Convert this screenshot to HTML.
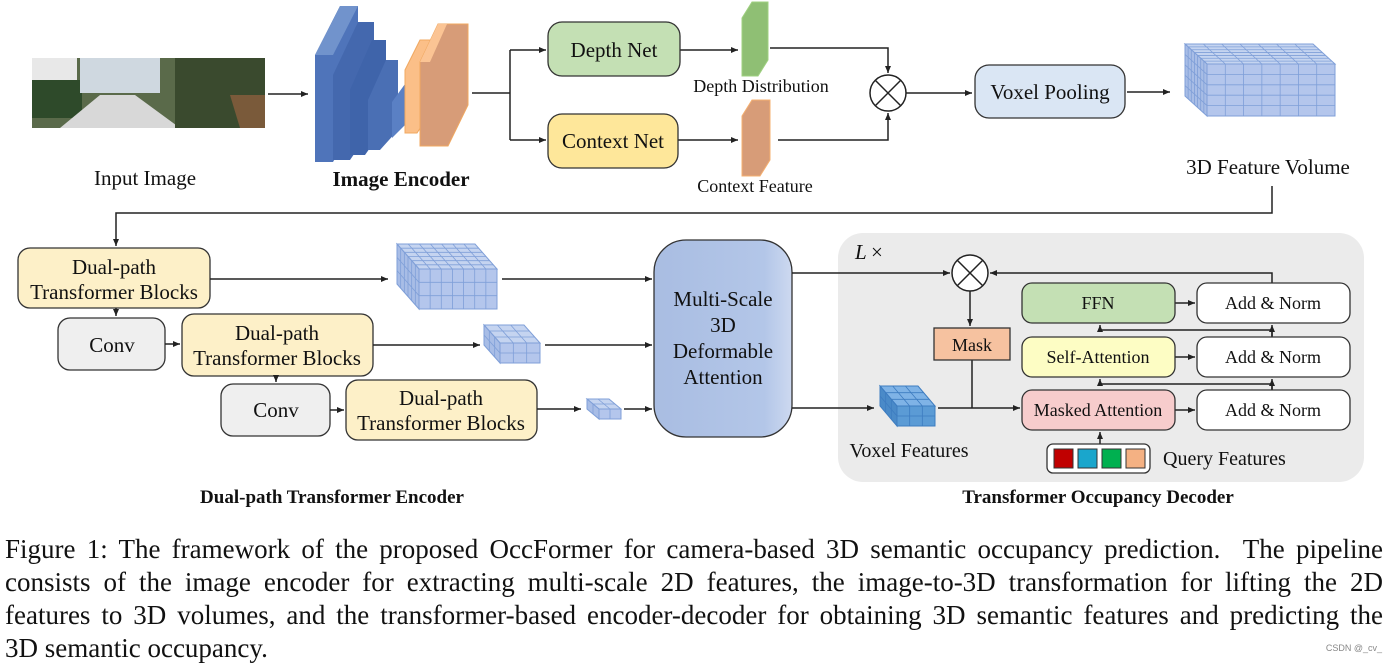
<!DOCTYPE html>
<html><head><meta charset="utf-8"><style>
html,body{margin:0;padding:0;background:#fff;}
body{width:1394px;height:664px;position:relative;overflow:hidden;font-family:"Liberation Serif",serif;}
svg{position:absolute;left:0;top:0;}
.cap{position:absolute;left:5px;top:533px;width:1378px;font-size:27px;line-height:33px;color:#111;}
.cap div{text-align:justify;text-align-last:justify;white-space:nowrap;}
.cap div.l{text-align-last:left;}
.wm{position:absolute;right:12px;top:643px;font-family:"Liberation Sans",sans-serif;font-size:9px;color:#888;}
</style></head><body>
<svg id="s" width="1394" height="664" viewBox="0 0 1394 664" font-family="Liberation Serif, serif" fill="none">
<defs>
<marker id="a" markerWidth="8" markerHeight="8" refX="7" refY="4" orient="auto" markerUnits="userSpaceOnUse"><path d="M0,1 L7,4 L0,7 Z" fill="#222"/></marker>
<linearGradient id="g" x1="0" x2="1"><stop offset="0" stop-color="#a9bde2"/><stop offset="0.8" stop-color="#b3c6e8"/><stop offset="1" stop-color="#cdd9f0"/></linearGradient>
</defs>
<rect x="32" y="58" width="233" height="70" fill="#5a6a4a"/>
<rect x="32" y="58" width="45" height="45" fill="#e8e8e8"/>
<rect x="32" y="80" width="50" height="38" fill="#2e4a2a"/>
<polygon points="60,128 100,95 135,95 180,128" fill="#d8d8d8"/>
<rect x="175" y="58" width="90" height="70" fill="#3a4a2e"/>
<rect x="80" y="58" width="80" height="35" fill="#cfd8e0"/>
<polygon points="230,95 265,95 265,128 240,128" fill="#7a5a3a"/>
<polygon points="315,55 340,6 358,6 358,120 333,162 315,162" fill="#4f74ba"/>
<polygon points="340,6 358,6 333,55 315,55" fill="#7193cc"/>
<polygon points="333,75 358,22 374,22 374,125 350,160 333,160" fill="#4468ae"/>
<polygon points="350,90 372,40 386,40 386,125 365,155 350,155" fill="#3f64aa"/>
<polygon points="368,100 386,60 398,60 398,130 380,150 368,150" fill="#4a6fb4"/>
<polygon points="392,102 405,84 405,125 392,138" fill="#5a80c4"/>
<polygon points="405,70 420,40 430,40 430,113 417,133 405,133" fill="#fbbf88" stroke="#f0a860"/>
<polygon points="420,62 438,24 468,24 468,105 448,146 420,146" fill="#d79c78" stroke="#f0a860"/>
<polygon points="420,62 438,24 447,24 430,62" fill="#fbc494"/>
<g stroke="#222" stroke-width="1.5">
<line x1="268" y1="94" x2="308" y2="94" marker-end="url(#a)"/>
<polyline points="472,93 510,93"/>
<polyline points="510,50 510,140"/>
<line x1="510" y1="50" x2="546" y2="50" marker-end="url(#a)"/>
<line x1="510" y1="140" x2="546" y2="140" marker-end="url(#a)"/>
<line x1="680" y1="50" x2="738" y2="50" marker-end="url(#a)"/>
<line x1="678" y1="140" x2="738" y2="140" marker-end="url(#a)"/>
<polyline points="770,48 888,48 888,73" marker-end="url(#a)"/>
<polyline points="778,140 888,140 888,113" marker-end="url(#a)"/>
<line x1="906" y1="93" x2="972" y2="93" marker-end="url(#a)"/>
<line x1="1127" y1="92" x2="1170" y2="92" marker-end="url(#a)"/>
<polyline points="1272,186 1272,213 116,213 116,246" marker-end="url(#a)"/>
</g>
<rect x="548" y="22" width="132" height="54" rx="14" fill="#c4e0b4" stroke="#333" stroke-width="1.3"/>
<rect x="548" y="114" width="130" height="54" rx="14" fill="#fee79a" stroke="#333" stroke-width="1.3"/>
<polygon points="742,18 752,2 768,2 768,60 758,76 742,76" fill="#8fbf74" stroke="#9fd080"/>
<polygon points="742,116 752,100 770,100 770,160 760,176 742,176" fill="#d79c78" stroke="#f5b070"/>
<circle cx="888" cy="93" r="18" fill="#fff" stroke="#222" stroke-width="1.5"/>
<path d="M875,80 L901,106 M901,80 L875,106" stroke="#222" stroke-width="1.5"/>
<rect x="975" y="65" width="150" height="53" rx="14" fill="#dae6f4" stroke="#333" stroke-width="1.3"/>
<rect x="838" y="233" width="526" height="249" rx="25" fill="#ebebeb"/>
<g id="cubes"></g>
<g stroke="#333" stroke-width="1.3">
<rect x="18" y="248" width="192" height="60" rx="12" fill="#fdf0c8"/>
<rect x="58" y="318" width="107" height="52" rx="12" fill="#efefef"/>
<rect x="182" y="314" width="191" height="62" rx="12" fill="#fdf0c8"/>
<rect x="221" y="384" width="109" height="52" rx="12" fill="#efefef"/>
<rect x="346" y="380" width="191" height="60" rx="12" fill="#fdf0c8"/>
<rect x="654" y="240" width="138" height="197" rx="32" fill="url(#g)"/>
</g>
<g stroke="#222" stroke-width="1.5">
<line x1="116" y1="308" x2="116" y2="316" marker-end="url(#a)"/>
<line x1="276" y1="376" x2="276" y2="382" marker-end="url(#a)"/>
<line x1="165" y1="344" x2="180" y2="344" marker-end="url(#a)"/>
<line x1="330" y1="410" x2="344" y2="410" marker-end="url(#a)"/>
<line x1="210" y1="279" x2="388" y2="279" marker-end="url(#a)"/>
<line x1="502" y1="279" x2="652" y2="279" marker-end="url(#a)"/>
<line x1="373" y1="345" x2="480" y2="345" marker-end="url(#a)"/>
<line x1="545" y1="345" x2="652" y2="345" marker-end="url(#a)"/>
<line x1="537" y1="409" x2="581" y2="409" marker-end="url(#a)"/>
<line x1="624" y1="409" x2="652" y2="409" marker-end="url(#a)"/>
<line x1="792" y1="273" x2="950" y2="273" marker-end="url(#a)"/>
<polyline points="1272,283 1272,273 990,273" marker-end="url(#a)"/>
<line x1="970" y1="291" x2="970" y2="326" marker-end="url(#a)"/>
<line x1="792" y1="408" x2="874" y2="408" marker-end="url(#a)"/>
<polyline points="972,360 972,408"/>
<line x1="938" y1="408" x2="1020" y2="408" marker-end="url(#a)"/>
<line x1="1175" y1="303" x2="1195" y2="303" marker-end="url(#a)"/>
<line x1="1175" y1="357" x2="1195" y2="357" marker-end="url(#a)"/>
<line x1="1175" y1="410" x2="1195" y2="410" marker-end="url(#a)"/>
<polyline points="1272,390 1272,384 1100,384 1100,379" marker-end="url(#a)"/>
<polyline points="1272,337 1272,330 1100,330 1100,325" marker-end="url(#a)"/>
<line x1="1272" y1="390" x2="1272" y2="379" marker-end="url(#a)"/>
<line x1="1272" y1="337" x2="1272" y2="325" marker-end="url(#a)"/>
<line x1="1100" y1="444" x2="1100" y2="432" marker-end="url(#a)"/>
</g>
<circle cx="970" cy="273" r="18" fill="#fff" stroke="#222" stroke-width="1.5"/>
<path d="M957,260 L983,286 M983,260 L957,286" stroke="#222" stroke-width="1.5"/>
<g stroke="#333" stroke-width="1.3">
<rect x="934" y="328" width="76" height="32" fill="#f6c2a0"/>
<rect x="1022" y="283" width="153" height="40" rx="10" fill="#c4e0b4"/>
<rect x="1022" y="337" width="153" height="40" rx="10" fill="#fdfdc4"/>
<rect x="1022" y="390" width="153" height="40" rx="10" fill="#f7cccc"/>
<rect x="1197" y="283" width="153" height="40" rx="10" fill="#fff"/>
<rect x="1197" y="337" width="153" height="40" rx="10" fill="#fff"/>
<rect x="1197" y="390" width="153" height="40" rx="10" fill="#fff"/>
<rect x="1047" y="444" width="103" height="29" rx="6" fill="#fff"/>
<rect x="1054" y="449" width="19" height="19" fill="#c00000" stroke-width="1"/>
<rect x="1078" y="449" width="19" height="19" fill="#1aa6cc" stroke-width="1"/>
<rect x="1102" y="449" width="19" height="19" fill="#00b050" stroke-width="1"/>
<rect x="1126" y="449" width="19" height="19" fill="#f4b183" stroke-width="1"/>
</g>
<g fill="#111" font-size="21" text-anchor="middle">
<text x="145" y="185">Input Image</text>
<text x="401" y="186" font-weight="bold">Image Encoder</text>
<text x="614" y="57">Depth Net</text>
<text x="613" y="148">Context Net</text>
<text x="761" y="92" font-size="18">Depth Distribution</text>
<text x="755" y="192" font-size="18">Context Feature</text>
<text x="1050" y="99">Voxel Pooling</text>
<text x="1268" y="174">3D Feature Volume</text>
<text x="114" y="274">Dual-path</text>
<text x="114" y="299">Transformer Blocks</text>
<text x="112" y="352">Conv</text>
<text x="277" y="340">Dual-path</text>
<text x="277" y="365">Transformer Blocks</text>
<text x="276" y="417">Conv</text>
<text x="441" y="405">Dual-path</text>
<text x="441" y="430">Transformer Blocks</text>
<text x="723" y="306">Multi-Scale</text>
<text x="723" y="332">3D</text>
<text x="723" y="358">Deformable</text>
<text x="723" y="384">Attention</text>
<text x="332" y="503" font-weight="bold" font-size="19">Dual-path Transformer Encoder</text>
<text x="1098" y="503" font-weight="bold" font-size="19">Transformer Occupancy Decoder</text>
<text x="972" y="351" font-size="18">Mask</text>
<text x="1098" y="309" font-size="18">FFN</text>
<text x="1098" y="363" font-size="18">Self-Attention</text>
<text x="1098" y="416" font-size="18">Masked Attention</text>
<text x="1273" y="309" font-size="18">Add &amp; Norm</text>
<text x="1273" y="363" font-size="18">Add &amp; Norm</text>
<text x="1273" y="416" font-size="18">Add &amp; Norm</text>
<text x="909" y="457" font-size="20">Voxel Features</text>
<text x="1163" y="465" text-anchor="start" font-size="20">Query Features</text>
<text x="855" y="259" text-anchor="start" font-style="italic">L</text>
<text x="871" y="259" text-anchor="start">×</text>
</g>
</svg>
<div class="cap">
<div>Figure 1: The framework of the proposed OccFormer for camera-based 3D semantic occupancy prediction. &nbsp;The pipeline</div>
<div>consists of the image encoder for extracting multi-scale 2D features, the image-to-3D transformation for lifting the 2D</div>
<div>features to 3D volumes, and the transformer-based encoder-decoder for obtaining 3D semantic features and predicting the</div>
<div class="l">3D semantic occupancy.</div>
</div>
<div class="wm">CSDN @_cv_</div>
<script>
(function(){
var NS="http://www.w3.org/2000/svg",g=document.getElementById("cubes");
function el(t,a){var e=document.createElementNS(NS,t);for(var k in a)e.setAttribute(k,a[k]);g.appendChild(e);return e;}
function cube(x,y,W,H,dx,dy,nx,ny,nz,fill,line,top,side){
 var fx=x+dx,fy=y+dy;
 el("polygon",{points:[x,y,x+W,y,fx+W,fy,fx,fy].join(","),fill:top,stroke:line});
 el("polygon",{points:[x,y,fx,fy,fx,fy+H,x,y+H].join(","),fill:side,stroke:line});
 el("rect",{x:fx,y:fy,width:W,height:H,fill:fill,stroke:line});
 var d="";
 for(var i=1;i<nx;i++){var xx=fx+W*i/nx;d+="M"+xx+","+fy+"V"+(fy+H)+"M"+(x+W*i/nx)+","+y+"L"+xx+","+fy;}
 for(var j=1;j<ny;j++){var yy=fy+H*j/ny;d+="M"+fx+","+yy+"H"+(fx+W)+"M"+x+","+(y+H*j/ny)+"L"+fx+","+yy;}
 for(var k=1;k<nz;k++){var t=k/nz,ax=x+dx*t,ay=y+dy*t;d+="M"+ax+","+ay+"H"+(ax+W)+"M"+ax+","+ay+"V"+(ay+H);}
 el("path",{d:d,stroke:line,"stroke-width":"0.8"});
}
var L="#7f9fd8",F="#b4c6ec",T="#c5d4f0",S="#a8bde6";
cube(1185,44,128,52,22,20,7,5,7,F,L,T,S);
cube(397,244,78,40,22,25,7,3,6,F,L,T,S);
cube(484,325,40,20,16,18,3,2,3,F,L,T,S);
cube(587,399,22,10,12,10,2,1,2,F,L,T,S);
cube(880,386,38,20,17,20,3,2,3,"#5b9bd5","#3d7cc0","#7fb3e6","#4a8ac8");
})();
</script>
</body></html>
